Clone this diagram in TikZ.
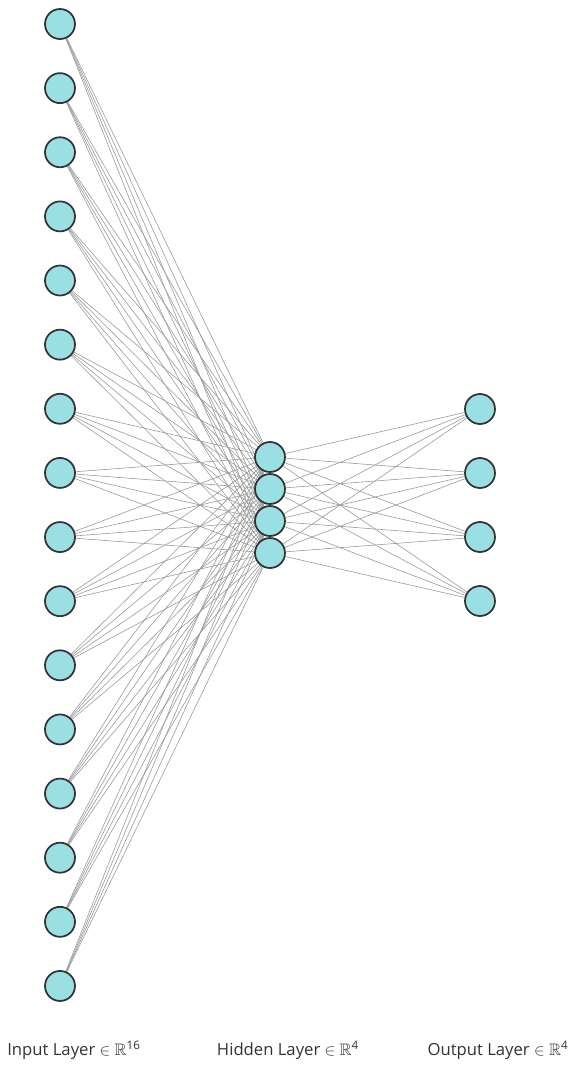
\documentclass[tikz,border=0pt]{standalone}
\usepackage{amssymb}
\usepackage{fontspec}
\setmainfont{Open Sans}
\usetikzlibrary{positioning,backgrounds}
\definecolor{neuronfill}{HTML}{9ADFE3}
\definecolor{neurondraw}{HTML}{333333}
\definecolor{edgegray}{HTML}{9A9A9A}
\tikzstyle{neuron} = [draw=neurondraw, fill=neuronfill, circle, line width=1.3pt, minimum size=22.5pt, inner sep=0pt]
\tikzstyle{edge} = [draw=edgegray, line width=0.45pt]
\tikzstyle{layername} = [text=black!80, font=\fontsize{12.5}{14}\selectfont, inner sep=0pt]

\begin{document}
\begin{tikzpicture}[x=0.75pt, y=-0.75pt]
    \useasboundingbox (0,0) rectangle (582,1072);
    % Placing the neurons
    \foreach \i in {1,...,16}
        \node [neuron] (in\i) at (60, {24 + (\i-1)*64.13}) {};
    \foreach \i in {1,...,4}
        \node [neuron] (hid\i) at (270, {457 + (\i-1)*32}) {};
    \foreach \i in {1,...,4}
        \node [neuron] (out\i) at (480, {409 + (\i-1)*64}) {};

    % Connecting the neurons
    \begin{scope}[on background layer]
    \foreach \i in {1,...,16}
        \foreach \j in {1,...,4}
            \draw [edge] (in\i) -- (hid\j);
    \foreach \i in {1,...,4}
        \foreach \j in {1,...,4}
            \draw [edge] (hid\i) -- (out\j);
    \end{scope}

    % Layer names
    \node [layername] (inname) at (74, 1050) {Input Layer $\in$ $\mathbb{R}$\textsuperscript{16}};
    \node [layername] (hidname) at (288, 1050) {Hidden Layer $\in$ $\mathbb{R}$\textsuperscript{4}};
    \node [layername] (outname) at (498, 1050) {Output Layer $\in$ $\mathbb{R}$\textsuperscript{4}};
\end{tikzpicture}
\end{document}
